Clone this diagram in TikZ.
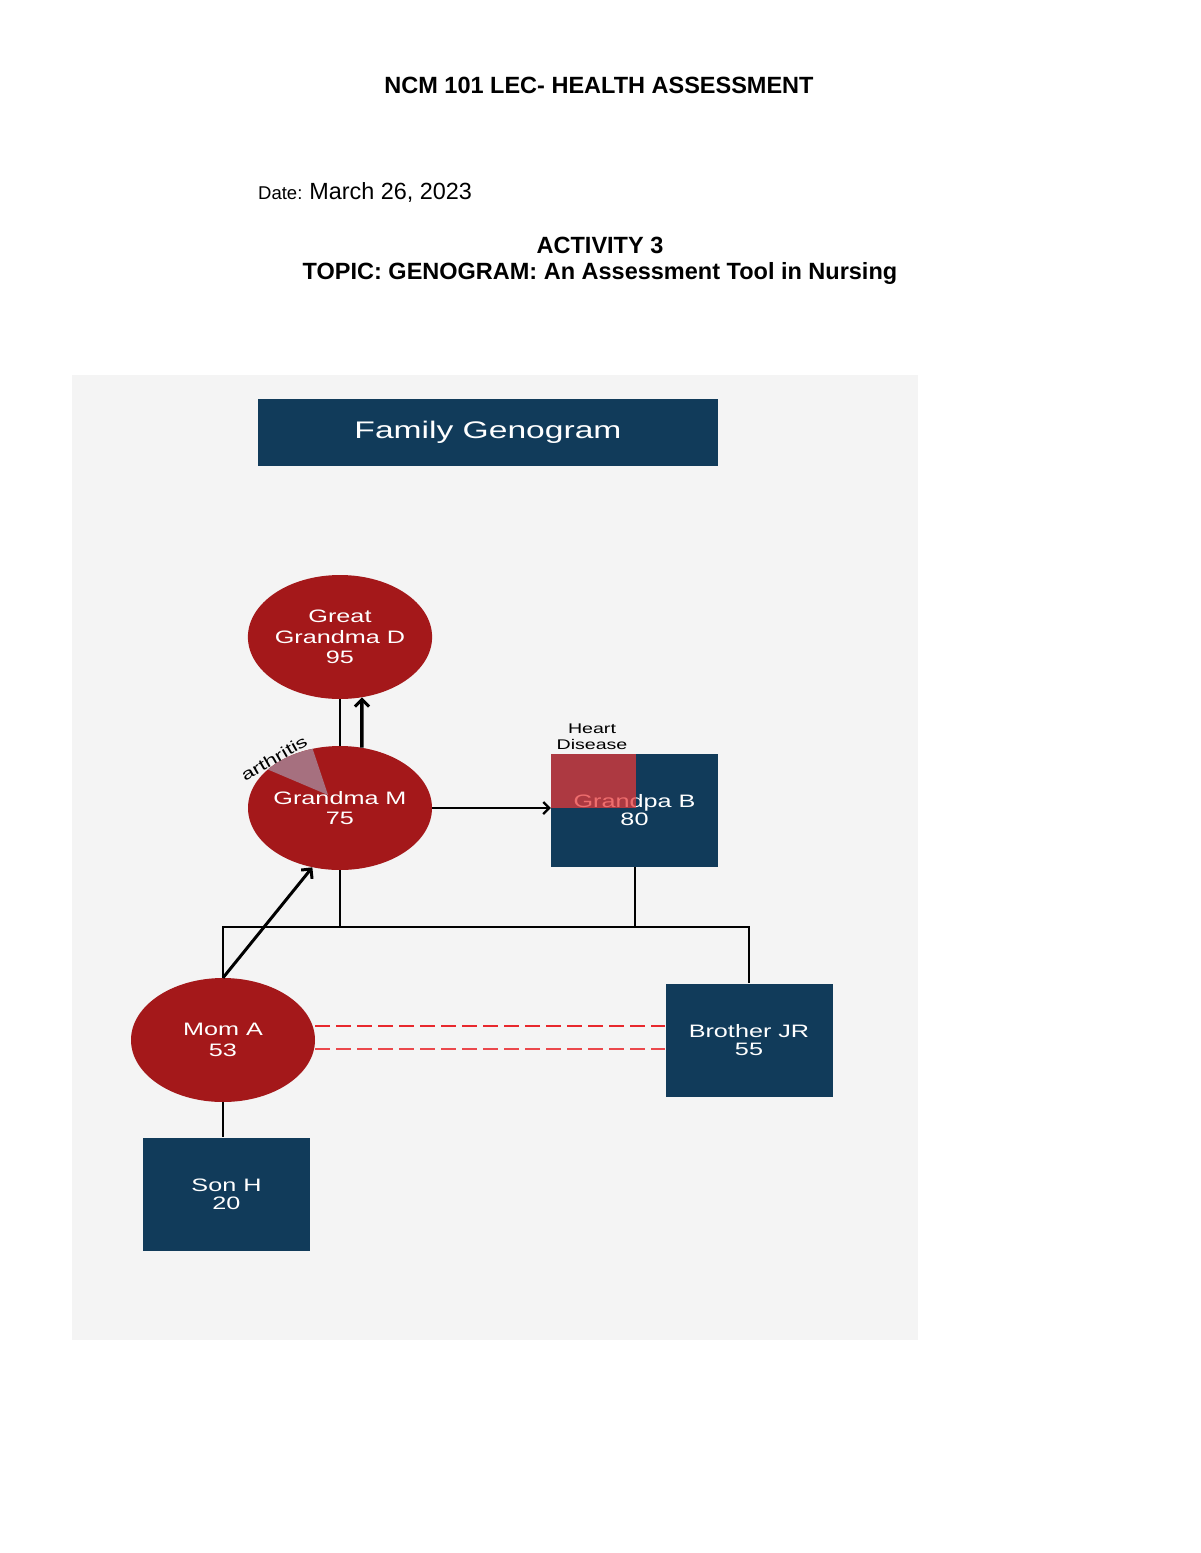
\documentclass[tikz,border=0pt]{standalone}
\usepackage{fontspec}
\setmainfont{Liberation Sans}
\newfontfamily\widefont[FakeStretch=1.4]{Liberation Sans}
\usetikzlibrary{shapes.geometric,arrows.meta,calc}
\definecolor{navy}{HTML}{113B5A}
\definecolor{genred}{HTML}{A4181A}
\definecolor{panel}{HTML}{F4F4F4}
\definecolor{overlayred}{RGB}{232,57,57}
\definecolor{mauve}{HTML}{A6707F}
\definecolor{dashred}{HTML}{E8282D}
\tikzset{
  female/.style={ellipse, fill=genred, minimum width=184pt, minimum height=124pt, inner sep=0pt,
     text=white, align=center, font=\widefont\fontsize{18}{20.5}\selectfont},
  male/.style={rectangle, fill=navy, minimum width=167pt, minimum height=113pt, inner sep=0pt,
     text=white, align=center, font=\widefont\fontsize{18}{18}\selectfont},
  link/.style={line width=2pt, black},
  thickarrow/.style={line width=3.5pt, black, -{Straight Barb[length=7pt,width=14pt,line width=3pt]}},
  arrowlink/.style={line width=2.2pt, black, -{Straight Barb[length=6pt,width=12pt,line width=2.2pt]}},
  dashlink/.style={line width=2.8pt, dashred, dash pattern=on 15pt off 6pt},
}
\begin{document}
\begin{tikzpicture}[x=1pt,y=-1pt]
\useasboundingbox[fill=white] (0,0) rectangle (1200,1553);
% header texts
\node[font=\bfseries\fontsize{23.5}{26}\selectfont] (hdr) at (599,85) {NCM 101 LEC- HEALTH ASSESSMENT};
\node[anchor=base west, inner sep=0pt] (date) at (258,199) {\fontsize{18.5}{20}\selectfont Date: \fontsize{23.4}{26}\selectfont March 26, 2023};
\node[font=\bfseries\fontsize{23.5}{26}\selectfont] (act) at (600,245) {ACTIVITY 3};
\node[font=\bfseries\fontsize{23.5}{26}\selectfont] (topic) at (600,273) {TOPIC: GENOGRAM: An Assessment Tool in Nursing};
% panel
\fill[panel] (72,375) rectangle (918,1340);
\node[fill=navy, minimum width=460pt, minimum height=67pt, inner sep=0pt, text=white,
  font=\widefont\fontsize{24}{26}\selectfont] (title) at (488,432.5) {Family Genogram};
% people
\node[female] (ggd) at (340,637) {Great\\Grandma D\\95};
\node[female] (gm) at (340,808) {};
\begin{scope}
  \clip (340,808) ellipse [x radius=92pt, y radius=62pt];
  \fill[mauve] (328,795) -- (196,739) -- (293,690) -- cycle;
\end{scope}
\node[female, fill=none] (gmtext) at (gm.center) {Grandma M\\75};
\node[font=\widefont\fontsize{16}{16}\selectfont, rotate=30, inner sep=0pt] (arth) at (274,758) {arthritis};
\node[male] (gpb) at (634.5,810.5) {Grandpa B\\80};
\fill[overlayred, opacity=0.73] (gpb.north west) rectangle ($(gpb.north west)+(85,54)$);
\node[font=\widefont\fontsize{14}{16}\selectfont, align=center, inner sep=0pt] (hd) at (592,737) {Heart\\Disease};
\node[female] (mom) at (223,1040) {Mom A\\53};
\node[male] (bro) at (749,1040) {Brother JR\\55};
\node[male] (son) at (226.5,1194) {Son H\\20};
% connectors
\coordinate (bar) at (0,927);
\coordinate (d1) at ($(mom.east)+(0,-14)$);
\coordinate (d2) at ($(mom.east)+(0,9)$);
\draw[link] (ggd.south) -- (gm.north);
\draw[thickarrow] (gm.70) -- (ggd.-70);
\draw[arrowlink] (gm.east) -- (gm.east -| gpb.west);
\draw[link] (gm.south) -- (gm.south |- bar);
\draw[link] (gpb.south) -- (gpb.south |- bar);
\draw[link] (mom.north) -- (mom.north |- bar) -- (bro.north |- bar) -- (bro.north);
\draw[thickarrow, line width=3pt] (mom.north) -- (gm.-115);
\draw[dashlink] (d1) -- (d1 -| bro.west);
\draw[dashlink, dashred!85] (d2) -- (d2 -| bro.west);
\draw[link] (mom.south) -- (mom.south |- son.north);
\end{tikzpicture}
\end{document}
